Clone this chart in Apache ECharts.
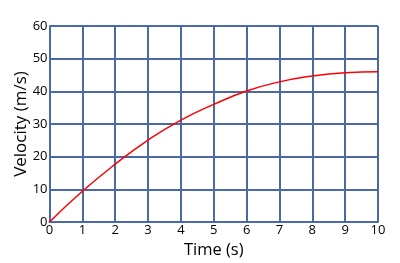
<!DOCTYPE html>
<html><head><meta charset="utf-8">
<script src="https://cdn.jsdelivr.net/npm/echarts@6/dist/echarts.min.js"></script>
<style>html,body{margin:0;padding:0;background:#fff}#c{width:400px;height:263px}</style>
</head><body><div id="c"></div>
<script>
const times = [0,1,2,3,4,5,6,7,8,9,10];
const velocity = [0,9.4,17.7,25.1,31.2,36.0,40.1,42.9,44.7,45.7,46.0];
const xLabel = 'Time (s)';
const yLabel = 'Velocity (m/s)';
const gridColor = '#4a69a6';
const chart = echarts.init(document.getElementById('c'));
chart.setOption({
  animation:false,
  grid:{left:49.5,right:22,top:26,bottom:41,containLabel:false,outerBoundsMode:'none'},
  xAxis:{type:'value',min:0,max:10,interval:1,
    name:xLabel,nameLocation:'middle',nameGap:20,nameMoveOverlap:false,
    nameTextStyle:{fontFamily:'Open Sans',fontSize:16.5,color:'#000'},
    axisLine:{show:true,lineStyle:{color:gridColor,width:2}},
    axisTick:{show:false},
    axisLabel:{fontFamily:'Open Sans',fontSize:13,color:'#000',margin:2},
    splitLine:{show:true,lineStyle:{color:gridColor,width:2}}},
  yAxis:{type:'value',min:0,max:60,interval:10,
    name:yLabel,nameLocation:'middle',nameGap:20,nameMoveOverlap:false,
    nameTextStyle:{fontFamily:'Open Sans',fontSize:17,color:'#000'},
    axisLine:{show:true,lineStyle:{color:gridColor,width:2}},
    axisTick:{show:false},
    axisLabel:{fontFamily:'Open Sans',fontSize:13,color:'#000',margin:2},
    splitLine:{show:true,lineStyle:{color:gridColor,width:2}}},
  series:[{type:'line',data:times.map((t,i)=>[t,velocity[i]]),smooth:true,showSymbol:false,
    lineStyle:{color:'#ff0000',width:1.5}}]
});
</script></body></html>
